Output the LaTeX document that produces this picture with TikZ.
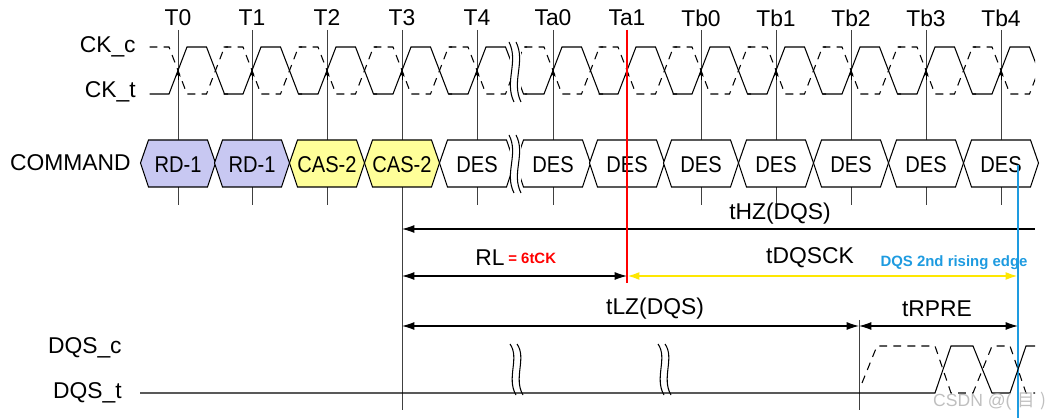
\documentclass[tikz,border=0pt]{standalone}
\usepackage{graphicx}
\usepackage{fontspec}
\setmainfont{Liberation Sans}
\newfontfamily\cjk{Noto Sans CJK SC}
\usetikzlibrary{arrows.meta}
\definecolor{rdc}{HTML}{C8C8F2}
\definecolor{casc}{HTML}{FFFF99}
\definecolor{bluel}{HTML}{1E9BE0}
\tikzset{
 lbl/.style={font=\fontsize{13}{15}\selectfont, inner sep=0pt},
 tm/.style={line width=0.6pt, {Latex[length=7pt,width=4.5pt]}-{Latex[length=7pt,width=4.5pt]}},
 wave/.style={line width=0.6pt},
 grid/.style={line width=0.5pt, black!75},
}
\begin{document}
\begin{tikzpicture}[x=0.02cm,y=-0.02cm]
\useasboundingbox (0,0) rectangle (1052,418);
% grid lines
\foreach \e/\n in {178/T0,252/T1,327/T2,402/T3,477/T4,553/Ta0,627/Ta1,701/Tb0,776/Tb1,851/Tb2,926/Tb3,1001/Tb4}{
  \node[lbl] (lab\n) at (\e,18) {\n};
  \draw[grid] (\e,30) -- (\e,205);
  \draw[-{Stealth[length=4pt,width=3pt]},line width=0.4pt] (\e,80) -- (\e,70);
}
\draw[grid] (402,205) -- (402,410);
% clocks
\node[lbl,anchor=east] (ckc) at (136,47) {CK\_c};
\node[lbl,anchor=east] (ckt) at (136,92) {CK\_t};
\begin{scope}
\clip (140,40) rectangle (1035,100);
\foreach \e in {178,252,327,402,477,553,627,701,776,851,926,1001}{
 \draw[wave] (\e-28.5,94)--(\e-9,94)--(\e+9,47)--(\e+28.5,47)--(\e+46.5,94)--(\e+50,94);
 \draw[wave,dashed,dash pattern=on 4.5pt off 3.5pt] (\e-28.5,47)--(\e-9,47)--(\e+9,94)--(\e+28.5,94)--(\e+46.5,47)--(\e+50,47);
}
\end{scope}
% commands
\node[lbl,anchor=east] (cmd) at (131,163) {COMMAND};
\foreach \e/\t/\c [count=\i] in {178/RD-1/rdc,252/RD-1/rdc,327/CAS-2/casc,402/CAS-2/casc,477/DES/white,553/DES/white,627/DES/white,701/DES/white,776/DES/white,851/DES/white,926/DES/white,1001/DES/white}{
 \draw[fill=\c,line width=0.6pt] (\e-37.5,163)--(\e-29.5,140)--(\e+29.5,140)--(\e+37.5,163)--(\e+29.5,187)--(\e-29.5,187)--cycle;
 \node[lbl] (c\i) at (\e,165) {\scalebox{0.88}[1]{\t}};
}
% breaks
\foreach \y/\h in {42/60,135/58}{
 \fill[white] (510,\y) rectangle (521,\y+\h);
 \draw[line width=0.6pt] (509,\y) .. controls (519,\y+\h*0.33) and (504,\y+\h*0.66) .. (514,\y+\h);
 \draw[line width=0.6pt] (516,\y) .. controls (526,\y+\h*0.33) and (511,\y+\h*0.66) .. (521,\y+\h);
}
\foreach \x in {510,658}{
 \draw[line width=0.6pt] (\x,344) .. controls (\x+10,358) and (\x-4,378) .. (\x+6,395);
 \draw[line width=0.6pt] (\x+7,344) .. controls (\x+17,358) and (\x+3,378) .. (\x+13,395);
}
% timing
\coordinate (hzL) at (402,229); \coordinate (hzR) at (1035,229);
\draw[line width=0.6pt,{Latex[length=7pt,width=4.5pt]}-] (hzL) -- (hzR);
\node[lbl] (thz) at (780,214) {tHZ(DQS)};
\coordinate (rlL) at (402,276); \coordinate (rlR) at (627,276); \coordinate (dqR) at (1018,276);
\draw[tm] (rlL) -- (rlR);
\node[lbl] (rl) at (490,258) {RL};
\node[font=\bfseries\fontsize{8.5}{9}\selectfont, text=red, anchor=west, inner sep=0pt] (rlv) at (508,258) {= 6tCK};
\draw[tm,draw=yellow!90!orange,line width=1.2pt] (rlR) -- (dqR);
\node[lbl] (tdq) at (810,258) {tDQSCK};
\node[font=\bfseries\fontsize{8.5}{9}\selectfont, text=bluel, inner sep=0pt] (dqs2) at (954,263) {DQS 2nd rising edge};
\coordinate (lzL) at (402,326); \coordinate (lzR) at (859,326); \coordinate (rpR) at (1018,326);
\draw[tm] (lzL) -- (lzR);
\draw[tm] (lzR) -- (rpR);
\node[lbl] (tlz) at (655,309) {tLZ(DQS)};
\node[lbl] (trp) at (937,309) {tRPRE};
\draw[grid] (859,320) -- (859,410);
\draw[red,line width=1pt] (627,30) -- (627,283);
\draw[bluel,line width=1.2pt] (1018,165) -- (1018,418);
% DQS
\node[lbl,anchor=east] (dqsc) at (122,348) {DQS\_c};
\node[lbl,anchor=east] (dqst) at (122,393) {DQS\_t};
\begin{scope}
\clip (130,330) rectangle (1035,400);
\draw[wave] (140,393) -- (935,393) -- (951,346) -- (973,346) -- (992,393) -- (1010,393) -- (1026,346) -- (1040,346);
\draw[wave,dashed,dash pattern=on 4.5pt off 3.5pt] (862,383) -- (877,346) -- (935,346) -- (951,393) -- (973,393) -- (992,346) -- (1010,346) -- (1026,393) -- (1040,393);
\end{scope}
\node[font=\fontsize{10}{11}\selectfont, text=black!25, inner sep=0pt] (wm) at (990,401) {CSDN @(\,\,\cjk 目\,\,)};
\end{tikzpicture}
\end{document}
